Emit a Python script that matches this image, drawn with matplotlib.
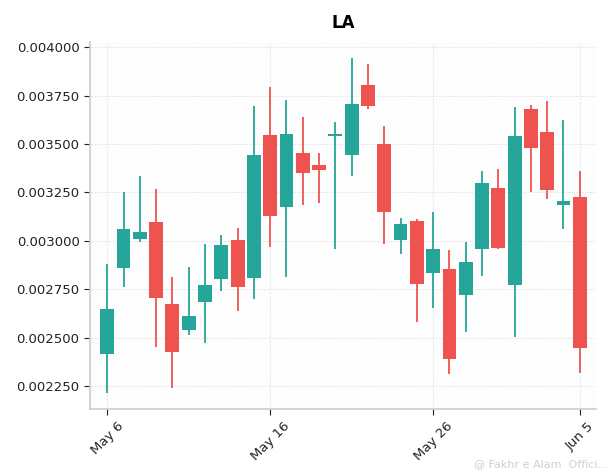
import numpy as np
import matplotlib.pyplot as plt

# daily candles, LA
opens = [0.002416, 0.002858, 0.003008, 0.003099, 0.002676, 0.002540, 0.002682, 0.002801, 0.003006, 0.002808,
         0.003544, 0.003173, 0.003451, 0.003394, 0.003542, 0.003442, 0.003802, 0.003500, 0.003003, 0.003103,
         0.002832, 0.002855, 0.002719, 0.002958, 0.003275, 0.002772, 0.003683, 0.003564, 0.003187, 0.003228]
highs = [0.002879, 0.003251, 0.003335, 0.003270, 0.002812, 0.002867, 0.002982, 0.003030, 0.003065, 0.003695,
         0.003792, 0.003726, 0.003638, 0.003452, 0.003612, 0.003943, 0.003912, 0.003595, 0.003120, 0.003115,
         0.003151, 0.002951, 0.002992, 0.003363, 0.003370, 0.003693, 0.003702, 0.003723, 0.003624, 0.003358]
lows = [0.002212, 0.002760, 0.002992, 0.002453, 0.002242, 0.002514, 0.002471, 0.002743, 0.002638, 0.002698,
        0.002970, 0.002812, 0.003187, 0.003197, 0.002960, 0.003337, 0.003683, 0.002982, 0.002934, 0.002583,
        0.002651, 0.002310, 0.002531, 0.002820, 0.002956, 0.002502, 0.003251, 0.003215, 0.003060, 0.002316]
closes = [0.002650, 0.003063, 0.003048, 0.002703, 0.002424, 0.002614, 0.002774, 0.002980, 0.002760, 0.003445,
          0.003129, 0.003549, 0.003349, 0.003364, 0.003554, 0.003704, 0.003698, 0.003147, 0.003087, 0.002775,
          0.002960, 0.002390, 0.002893, 0.003299, 0.002965, 0.003542, 0.003480, 0.003261, 0.003208, 0.002445]

tick_pos = [0, 10, 20, 29]
tick_labels = ["May 6", "May 16", "May 26", "Jun 5"]

up_color = "#26a69a"
down_color = "#ef5350"

o = np.array(opens)
h = np.array(highs)
l = np.array(lows)
c = np.array(closes)
x = np.arange(len(o))
colors = [up_color if cc >= oo else down_color for oo, cc in zip(o, c)]

fig = plt.figure(figsize=(6.12, 4.76), dpi=100)
ax = fig.add_axes([0.147, 0.140, 0.827, 0.772])
ax.set_facecolor("#fdfdfd")

ax.vlines(x, l, h, colors=colors, linewidth=1.3, zorder=2)
ax.bar(x, np.abs(c - o), bottom=np.minimum(o, c), width=0.85, color=colors, zorder=3)

ax.set_xlim(-1.06, 30.0)
ax.set_ylim(0.00213, 0.004027)
ax.set_yticks(np.arange(0.00225, 0.00401, 0.00025))
ax.yaxis.set_major_formatter(plt.FormatStrFormatter("%.6f"))
ax.set_xticks(tick_pos)
ax.set_xticklabels(tick_labels, rotation=45)
ax.tick_params(labelsize=9.5, colors="#222222", length=4)

ax.grid(True, linestyle="--", linewidth=0.6, color="#e6e6e6", zorder=0)
for s in ["top", "right"]:
    ax.spines[s].set_visible(False)
for s in ["left", "bottom"]:
    ax.spines[s].set_color("#cccccc")
    ax.spines[s].set_linewidth(1.2)

ax.set_title("LA", fontsize=12, fontweight="bold", pad=10)

fig.text(0.995, 0.015, "@ Fakhr e Alam  Offici...", ha="right", va="bottom", fontsize=8, color="#cfcfcf")

fig.savefig("out.png", dpi=100)
